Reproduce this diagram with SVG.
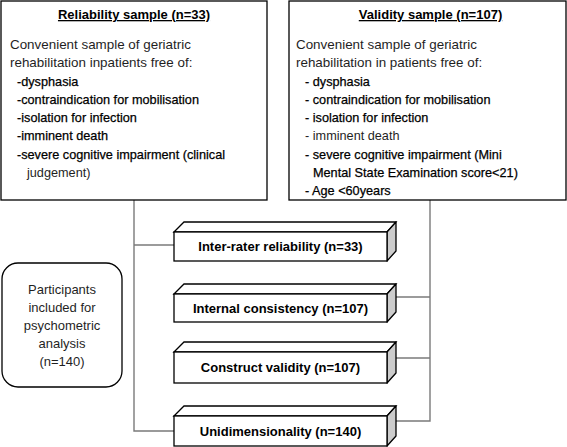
<svg xmlns="http://www.w3.org/2000/svg" width="567" height="447" viewBox="0 0 567 447">
<style>
.box{fill:#fff;stroke:#000;stroke-width:1.3}
.side{fill:#cccccc;stroke:#000;stroke-width:1.3;stroke-linejoin:round}
.conn{fill:none;stroke:#7a7a7a;stroke-width:1.4}
text{font-family:"Liberation Sans",Arial,Helvetica,sans-serif;fill:#1a1a1a}
.title{font-size:13px;font-weight:bold;text-anchor:middle;text-decoration:underline;fill:#000}
.intro{font-size:13.4px;fill:#1f1f1f}
.item{font-size:12.7px;fill:#000;stroke:#000;stroke-width:0.25}
.lbl{font-size:13px;font-weight:bold;text-anchor:middle;fill:#000}
.part{font-size:13px;text-anchor:middle;fill:#1f1f1f}
</style>
<g id="connectors">
<polyline class="conn" points="134,200 134,431 174,431"/>
<line class="conn" x1="134" y1="245" x2="174" y2="245"/>
<polyline class="conn" points="430,200 430,421 396,421"/>
<line class="conn" x1="396" y1="297" x2="430" y2="297"/>
<line class="conn" x1="396" y1="358" x2="430" y2="358"/>
</g>
<g id="reliability">
<rect class="box" x="1" y="1" width="266" height="199"/>
<text class="title" x="134" y="19">Reliability sample (n=33)</text>
<text class="intro" x="10" y="49">Convenient sample of geriatric</text>
<text class="intro" x="10" y="67.3">rehabilitation inpatients free of:</text>
<text class="item" x="17" y="85.5">-dysphasia</text>
<text class="item" x="17" y="103.8">-contraindication for mobilisation</text>
<text class="item" x="17" y="122">-isolation for infection</text>
<text class="item" x="17" y="140.3">-imminent death</text>
<text class="item" x="17" y="158.5">-severe cognitive impairment (clinical</text>
<text class="intro" x="27" y="176.8" style="font-size:12.7px">judgement)</text>
</g>
<g id="validity">
<rect class="box" x="289" y="1" width="277" height="199"/>
<text class="title" x="430.5" y="19">Validity sample (n=107)</text>
<text class="intro" x="296" y="49">Convenient sample of geriatric</text>
<text class="intro" x="296" y="67.3">rehabilitation in patients free of:</text>
<text class="item" x="305" y="85.5">- dysphasia</text>
<text class="item" x="305" y="103.8">- contraindication for mobilisation</text>
<text class="item" x="305" y="122">- isolation for infection</text>
<text class="intro" x="305" y="140.3" style="font-size:12.7px">- imminent death</text>
<text class="item" x="305" y="158.5">- severe cognitive impairment (Mini</text>
<text class="item" x="313" y="176.8">Mental State Examination score&lt;21)</text>
<text class="item" x="305" y="195">- Age &lt;60years</text>
</g>
<g id="participants">
<rect class="box" x="2" y="263" width="120" height="124" rx="16" ry="16"/>
<text class="part" x="62" y="294">Participants</text>
<text class="part" x="62" y="312">included for</text>
<text class="part" x="62" y="330">psychometric</text>
<text class="part" x="62" y="348">analysis</text>
<text class="part" x="62" y="366">(n=140)</text>
</g>
<g id="interrater">
<polygon class="box" points="174,232 184,222 396,222 387,232"/>
<polygon class="side" points="387,232 396,222 396,251 387,261"/>
<rect class="box" x="174" y="232" width="213" height="29"/>
<text class="lbl" x="280.5" y="250.5">Inter-rater reliability (n=33)</text>
</g>
<g id="internal">
<polygon class="box" points="174,294 184,284 396,284 387,294"/>
<polygon class="side" points="387,294 396,284 396,312 387,322"/>
<rect class="box" x="174" y="294" width="213" height="28"/>
<text class="lbl" x="280.5" y="312.5">Internal consistency (n=107)</text>
</g>
<g id="construct">
<polygon class="box" points="174,352 184,342 396,342 387,352"/>
<polygon class="side" points="387,352 396,342 396,373 387,383"/>
<rect class="box" x="174" y="352" width="213" height="31"/>
<text class="lbl" x="280.5" y="372">Construct validity (n=107)</text>
</g>
<g id="unidim">
<polygon class="box" points="174,416 184,406 396,406 387,416"/>
<polygon class="side" points="387,416 396,406 396,436 387,446"/>
<rect class="box" x="174" y="416" width="213" height="30"/>
<text class="lbl" x="280.5" y="435.5">Unidimensionality (n=140)</text>
</g>
</svg>
